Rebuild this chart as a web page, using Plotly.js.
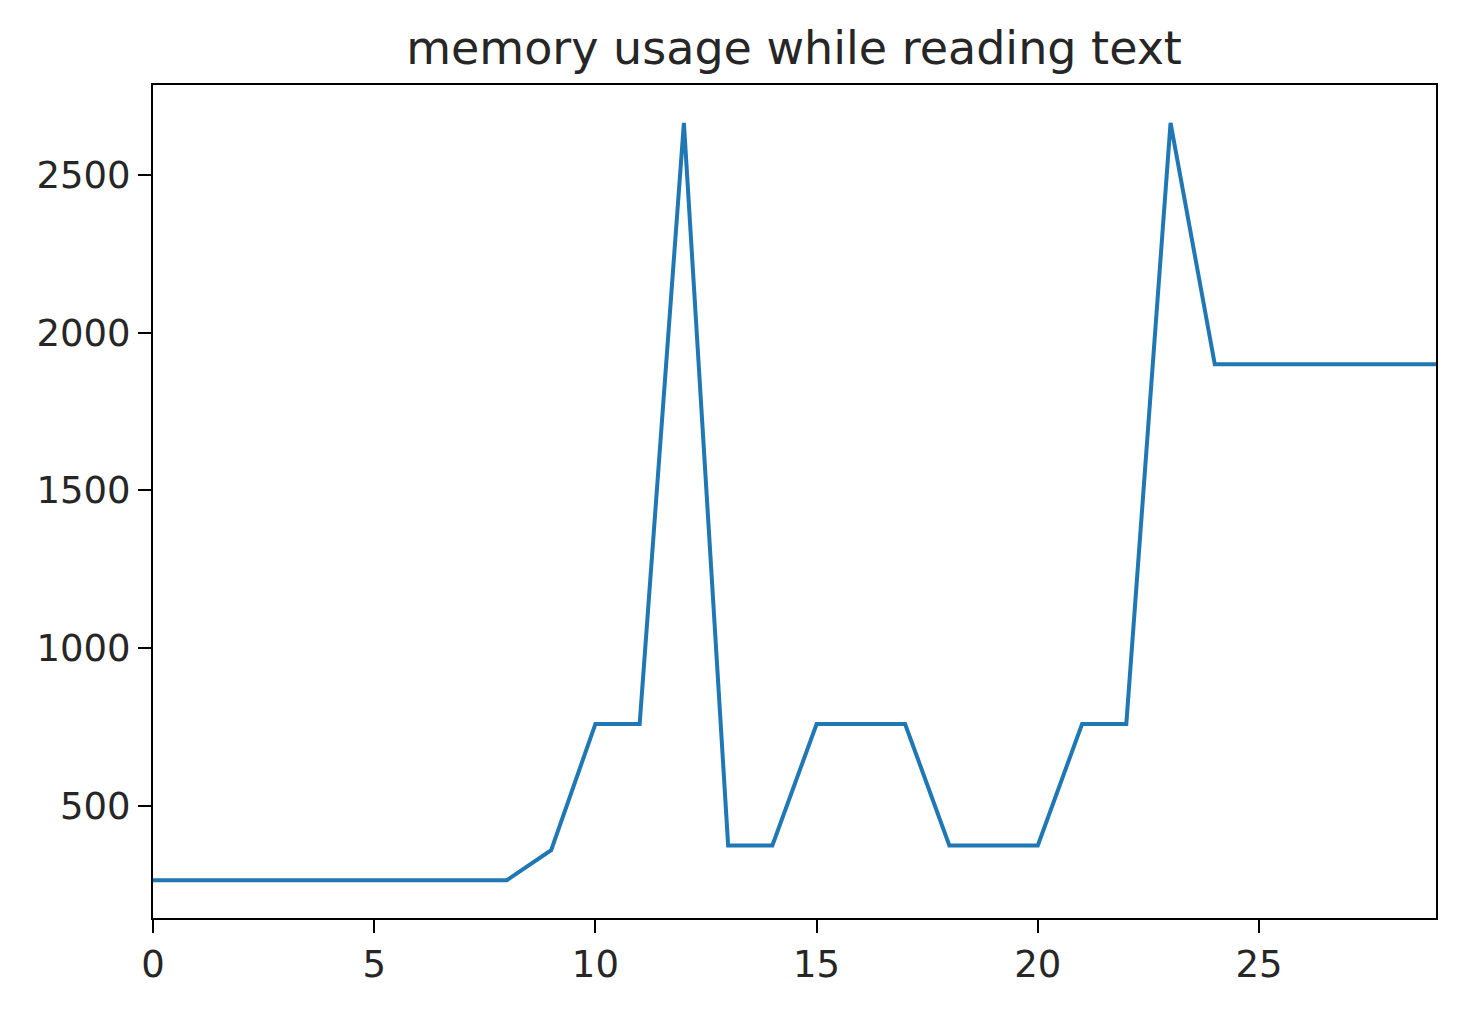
<!DOCTYPE html>
<html>
<head>
<meta charset="utf-8">
<script src="https://cdn.plot.ly/plotly-3.0.1.min.js"></script>
<style>
  html, body { margin: 0; padding: 0; background: #fff; }
  #chart { width: 1476px; height: 1018px; }
</style>
</head>
<body>
<div id="chart"></div>
<script>
// step index along the x axis
var steps = [0, 1, 2, 3, 4, 5, 6, 7, 8, 9,
             10, 11, 12, 13, 14, 15, 16, 17, 18, 19,
             20, 21, 22, 23, 24, 25, 26, 27, 28, 29];

// memory usage
var memory = [265, 265, 265, 265, 265, 265, 265, 265, 265, 360,
              760, 760, 2665, 375, 375, 760, 760, 760, 375, 375,
              375, 760, 760, 2665, 1900, 1900, 1900, 1900, 1900, 1900];

var xTicks = [0, 5, 10, 15, 20, 25];
var yTicks = [500, 1000, 1500, 2000, 2500];

var chartTitle = "memory usage while reading text";

//Build the line chart
function buildChart() {
  var trace = {
    x: steps,
    y: memory,
    type: "scatter",
    mode: "lines",
    line: { color: "#1f77b4", width: 4 },
    hoverinfo: "x+y"
  };

  var axisStyle = {
    showline: true,
    linecolor: "#000",
    linewidth: 2,
    mirror: true,
    showgrid: false,
    zeroline: false,
    ticks: "outside",
    ticklen: 13,
    tickwidth: 2,
    tickcolor: "#000",
    tickfont: { family: "DejaVu Sans", size: 37, color: "#262626" }
  };

  var layout = {
    width: 1476,
    height: 1018,
    margin: { l: 153, r: 40, t: 85, b: 100 },
    paper_bgcolor: "#fff",
    plot_bgcolor: "#fff",
    showlegend: false,
    title: {
      text: chartTitle,
      font: { family: "DejaVu Sans", size: 46, color: "#262626" },
      x: 0.538,
      xanchor: "center",
      xref: "container",
      y: 0.953,
      yanchor: "middle",
      yref: "container"
    },
    xaxis: Object.assign({}, axisStyle, {
      range: [0, 29],
      tickvals: xTicks
    }),
    yaxis: Object.assign({}, axisStyle, {
      range: [145, 2785],
      tickvals: yTicks
    })
  };

  Plotly.newPlot("chart", [trace], layout, { displayModeBar: false, staticPlot: true });
}

buildChart();
</script>
</body>
</html>
